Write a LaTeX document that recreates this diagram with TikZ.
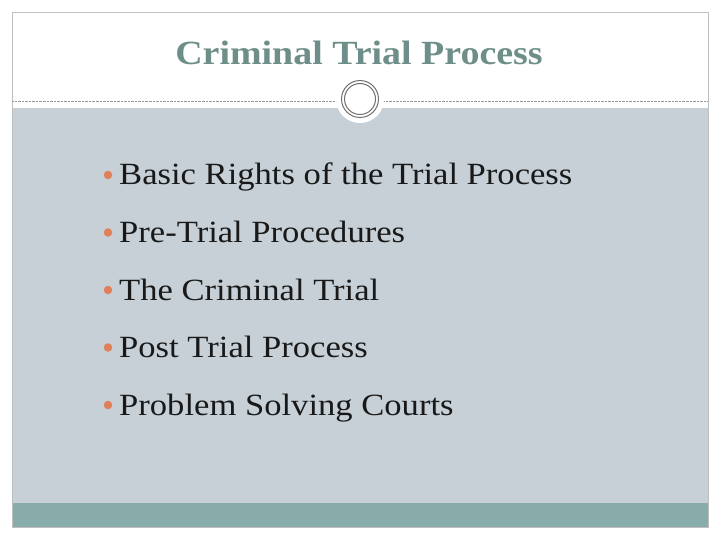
\documentclass[tikz,border=0pt]{standalone}
\usepackage{fontspec}
\setmainfont{Liberation Serif}[FakeStretch=1.12]
\definecolor{bodyc}{HTML}{C6D0D6}
\definecolor{barc}{HTML}{87ACA9}
\definecolor{titc}{HTML}{6E8E89}
\definecolor{dotc}{HTML}{E0805A}
\definecolor{ringc}{HTML}{707070}
\tikzset{item/.style={anchor=base west,inner sep=0pt,font=\fontsize{31}{34}\selectfont,text=black!90},
bul/.style={circle,fill=dotc,inner sep=0pt,minimum size=8.5bp}}
\begin{document}
\begin{tikzpicture}[x=1bp,y=-1bp]
\useasboundingbox (0,0) rectangle (720,540);
\fill[white] (0,0) rectangle (720,540);
\fill[bodyc] (12,108) rectangle (708,503);
\fill[barc] (12,503) rectangle (708,527);
\draw[black!25] (12,12) rectangle (708,527);
\draw[black!40,densely dotted] (12,101) -- (708,101);
\fill[white] (360,99) circle (24);
\draw[ringc,line width=1bp] (360,99) circle (18.5);
\draw[ringc,line width=1bp] (360,99) circle (15.5);
\node[anchor=base,inner sep=0pt,font=\bfseries\fontsize{34}{38}\selectfont,text=titc] (title) at (359,65) {Criminal Trial Process};
\foreach \t [count=\i] in {Basic Rights of the Trial Process,Pre-Trial Procedures,The Criminal Trial,Post Trial Process,Problem Solving Courts}{
  \node[bul] (b\i) at (108,175+57.5*\i-57.5) {};
  \node[item] (t\i) at (119,185+57.5*\i-57.5) {\t};
}
\end{tikzpicture}
\end{document}
